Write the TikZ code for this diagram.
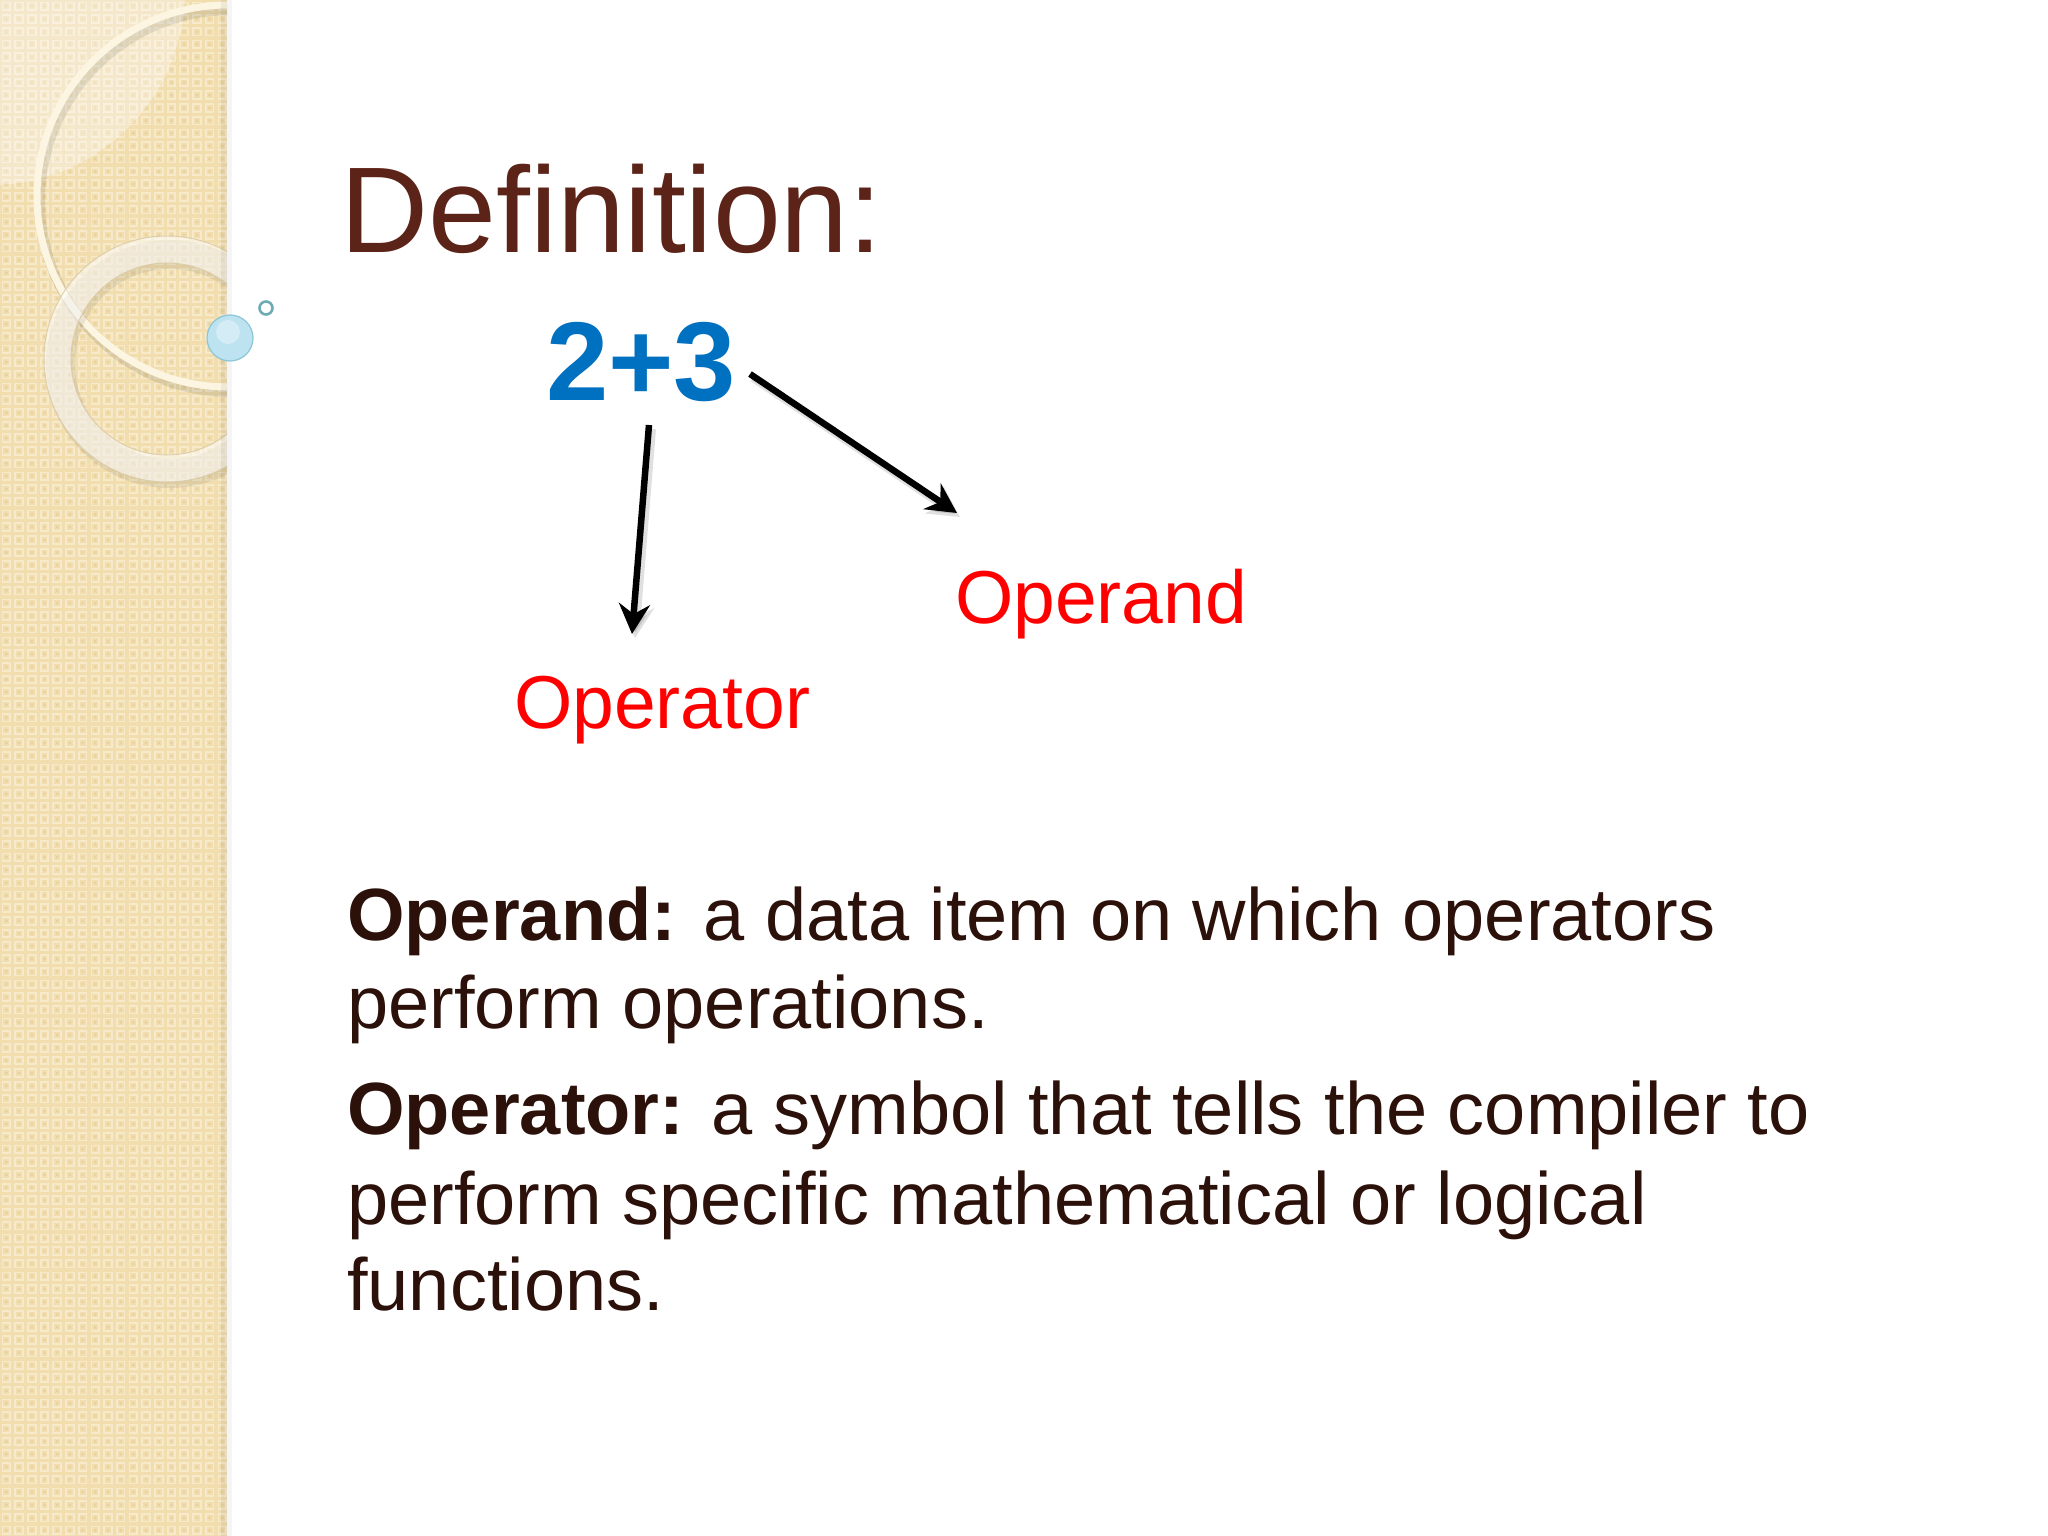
\documentclass[tikz,border=0pt]{standalone}
\usepackage{fontspec}
\setmainfont{Liberation Sans}
\usetikzlibrary{arrows.meta}
\definecolor{panelbase}{HTML}{F1DDAE}
\definecolor{panelsq}{HTML}{F7EACB}
\definecolor{paneldk}{HTML}{E8D2A0}
\definecolor{ringcream}{HTML}{FCF5E1}
\definecolor{ringedge}{HTML}{D8C8A2}
\definecolor{titlebrown}{HTML}{5C2318}
\definecolor{bodybrown}{HTML}{2B110A}
\definecolor{sumblue}{HTML}{0070C0}
\definecolor{labelred}{HTML}{FF0000}
\definecolor{bubble}{HTML}{BDE3F0}
\definecolor{bubbleedge}{HTML}{8CC6D8}
\definecolor{smallring}{HTML}{6DAAB5}
\tikzset{
  txt/.style={inner sep=0pt, anchor=base west},
  titletxt/.style={txt, font=\fontsize{122}{146}\selectfont, text=titlebrown},
  sumtxt/.style={txt, font=\bfseries\fontsize{112}{134}\selectfont, text=sumblue},
  labeltxt/.style={txt, font=\fontsize{75}{90}\selectfont, text=labelred},
  bodytxt/.style={txt, font=\fontsize{74}{88}\selectfont, text=bodybrown},
  arr/.style={line width=6.5pt, black, -{Stealth[length=30pt,width=31pt,inset=10pt]}},
  arrshadow/.style={line width=8pt, black, opacity=0.12, -{Stealth[length=31pt,width=33pt,inset=10pt]}},
}
\begin{document}
\begin{tikzpicture}[x=1pt,y=-1pt]
\useasboundingbox (0,0) rectangle (2048,1536);
\fill[white] (0,0) rectangle (2048,1536);
% left decorative panel
\fill[panelbase] (0,0) rectangle (227,1536);
\begin{scope}
  \clip (0,0) rectangle (227,1536);
  \draw[panelsq, line width=1.8pt]
    \foreach \i in {0,...,17} { \foreach \j in {0,...,121} {
      (\i*12.7+2.5,\j*12.7+2.5) rectangle ++(7.7,7.7) } };
  \fill[paneldk]
    \foreach \i in {0,...,17} { \foreach \j in {0,...,121} {
      (\i*12.7+5.2,\j*12.7+5.2) rectangle ++(2.3,2.3) } };
  % lighter quarter disc at top left
  \fill[white, opacity=0.35] (-10,-10) circle[radius=195];
  % thin big ring with shadow
  \draw[black, opacity=0.09, line width=10pt] (231,201) circle[radius=191];
  \draw[ringcream, line width=7pt] (228,196) circle[radius=191];
  % thick translucent ring
  \fill[black, opacity=0.07, even odd rule] (170,364) circle[radius=124] (170,364) circle[radius=95];
  \fill[white, opacity=0.55, even odd rule] (167,359) circle[radius=123] (167,359) circle[radius=96];
  \draw[ringedge, line width=1pt, opacity=0.8] (167,359) circle[radius=123] (167,359) circle[radius=96];
  % edge shadow
  \fill[black, opacity=0.05] (221,0) rectangle (227,1536);
\end{scope}
\fill[black, opacity=0.04] (227,0) rectangle (232,1536);
% bubbles
\fill[bubble] (230,338) circle[radius=23];
\draw[bubbleedge, line width=1.2pt] (230,338) circle[radius=23];
\fill[white, opacity=0.35] (228,332) circle[radius=12];
\draw[smallring, line width=2.6pt] (266,308) circle[radius=6.5];
% title
\node[titletxt] (title) at (340,252) {Definition:};
% expression
\node[sumtxt] (sum) at (546,400) {2+3};
% labels
\node[labeltxt] (operand) at (955,623) {Operand};
\node[labeltxt] (operator) at (514,728) {Operator};
% arrows
\coordinate (s1) at (649,425);
\coordinate (e1) at (632,634);
\coordinate (s2) at (750,374);
\coordinate (e2) at (957,513);
\coordinate (s1sh) at (652,429);
\coordinate (e1sh) at (635,638);
\coordinate (s2sh) at (753,378);
\coordinate (e2sh) at (960,517);
\draw[arrshadow] (s1sh) -- (e1sh);
\draw[arrshadow] (s2sh) -- (e2sh);
\draw[arr] (s1) -- (e1);
\draw[arr] (s2) -- (e2);
% body text
\node[bodytxt] (l1) at (347,940) {\textbf{Operand:} a data item on which operators};
\node[bodytxt] (l2) at (347,1028) {perform operations.};
\node[bodytxt] (l3) at (347,1134) {\textbf{Operator:} a symbol that tells the compiler to};
\node[bodytxt] (l4) at (347,1224) {perform specific mathematical or logical};
\node[bodytxt] (l5) at (347,1310) {functions.};
\end{tikzpicture}
\end{document}
